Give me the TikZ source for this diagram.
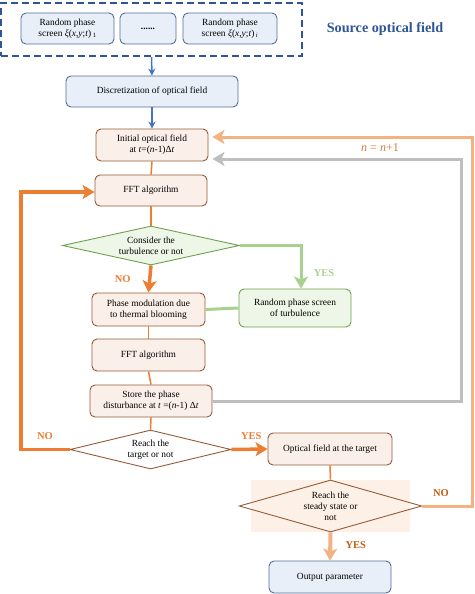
\documentclass[tikz,border=0pt]{standalone}
\usepackage{fontspec}
\setmainfont{Liberation Serif}
\usetikzlibrary{shapes.geometric,arrows.meta}
\definecolor{srcblue}{RGB}{47,85,151}
\definecolor{boxblue}{RGB}{233,239,248}
\definecolor{edgeblue}{RGB}{84,110,150}
\definecolor{arrblue}{RGB}{68,114,196}
\definecolor{boxpeach}{RGB}{251,240,233}
\definecolor{edgebrown}{RGB}{150,90,55}
\definecolor{thorange}{RGB}{237,125,49}
\definecolor{ltorange}{RGB}{244,177,131}
\definecolor{lbbrown}{RGB}{197,90,17}
\definecolor{boxgreen}{RGB}{238,246,232}
\definecolor{edgegreen}{RGB}{112,160,80}
\definecolor{arrgreen}{RGB}{169,209,142}
\definecolor{loopgray}{RGB}{191,191,191}
\definecolor{bgpeach}{RGB}{253,240,231}
\tikzset{
	bluebox/.style={draw=edgeblue,fill=boxblue,line width=0.9pt,rounded corners=5pt,align=center,inner sep=1pt},
	peachbox/.style={draw=edgebrown,fill=boxpeach,line width=0.9pt,rounded corners=5pt,align=center,inner sep=1pt},
	greenbox/.style={draw=edgegreen,fill=boxgreen,line width=0.9pt,rounded corners=5pt,align=center,inner sep=1pt},
	decision/.style={diamond,aspect=4.5,inner sep=0pt,line width=0.9pt,align=center},
	link/.style={draw=thorange,line width=1.5pt},
	bigtip/.style={-{Stealth[length=12pt,width=14pt,inset=3pt]}},
	lab/.style={font=\bfseries\fontsize{10.5}{12}\selectfont}
}
\begin{document}
\begin{tikzpicture}[x=1pt,y=-1pt,font=\fontsize{9.4}{11}\selectfont]
	\useasboundingbox (0,0) rectangle (474,594);
	% source field
	\node[draw=srcblue,dashed,line width=2pt,dash pattern=on 7pt off 4pt,minimum width=301pt,minimum height=53pt] (source) at (151.5,29.5) {};
	\node[bluebox,minimum width=93pt,minimum height=31pt] (screenA) at (67.5,28.5) {Random phase\\screen \textit{ξ}(\textit{x},\textit{y};\textit{t})\,\textsubscript{1}};
	\node[bluebox,minimum width=56pt,minimum height=31pt] (screenB) at (148,28.5) {\textbf{......}};
	\node[bluebox,minimum width=94pt,minimum height=31pt] (screenC) at (230,28.5) {Random phase\\screen \textit{ξ}(\textit{x},\textit{y};\textit{t})\,\textsubscript{\textit{i}}};
	\node[text=srcblue,font=\bfseries\fontsize{14.2}{16}\selectfont] (title) at (385,29) {Source optical field};
	% main chain
	\node[bluebox,minimum width=172pt,minimum height=31pt] (discrete) at (152,91.5) {Discretization of optical field};
	\node[peachbox,minimum width=112pt,minimum height=32pt] (initial) at (152,145) {Initial optical field\\at \textit{t}=(\textit{n}-1)Δ\textit{t}};
	\node[peachbox,minimum width=112pt,minimum height=31pt] (fftA) at (151,190.5) {FFT algorithm};
	\node[decision,draw=edgegreen,fill=boxgreen,minimum width=177pt,minimum height=39pt] (turb) at (151,245.5) {Consider the\\turbulence or not};
	\node[peachbox,minimum width=113pt,minimum height=33pt] (phase) at (148.5,309.5) {Phase modulation due\\to thermal blooming};
	\node[greenbox,minimum width=112pt,minimum height=38pt] (randscr) at (295,308) {Random phase screen\\of turbulence};
	\node[peachbox,minimum width=113pt,minimum height=32pt] (fftB) at (148.5,355) {FFT algorithm};
	\node[peachbox,minimum width=122pt,minimum height=32pt] (store) at (151,401) {Store the phase\\disturbance at \textit{t} =(\textit{n}-1) Δ\textit{t}};
	\node[decision,draw=edgebrown,fill=white,minimum width=161pt,minimum height=39pt] (target) at (150.5,449.5) {Reach the\\target or not};
	\node[peachbox,minimum width=124pt,minimum height=32pt] (optfield) at (330,449) {Optical field at the target};
	\fill[bgpeach] (251,480) rectangle (410,532);
	\node[decision,draw=edgebrown,minimum width=159pt,minimum height=52pt] (steady) at (330.5,506) {Reach the\\steady state or\\not};
	\node[bluebox,minimum width=122pt,minimum height=32pt] (output) at (330,577) {Output parameter};
	% connectors
	\draw[arrblue,line width=1.5pt,-{Stealth[length=7pt,width=7pt]}] (source.south) -- (discrete.north);
	\draw[arrblue,line width=1.5pt,-{Stealth[length=7pt,width=7pt]}] (discrete.south) -- (initial.north);
	\draw[link] (initial.south) -- (fftA.north);
	\draw[link] (fftA.south) -- (turb.north);
	\draw[thorange,line width=3.5pt,bigtip] (turb.south) -- node[lab,text=thorange,left=14pt] {NO} (phase.north);
	\coordinate (yesturn) at (301,245.5);
	\draw[arrgreen,line width=3pt,bigtip] (turb.east) -- (yesturn) -- node[lab,text=arrgreen,pos=0.65,right=8pt] {YES} ([xshift=6pt]randscr.north);
	\draw[arrgreen,line width=3pt] (phase.east) -- (randscr.west);
	\draw[link] (phase.south) -- (fftB.north);
	\draw[link] (fftB.south) -- (store.north);
	\draw[link] (store.south) -- (target.north);
	\draw[thorange,line width=3.5pt,bigtip] (target.east) -- node[lab,text=thorange,above=5pt,pos=0.55] {YES} (optfield.west);
	\coordinate (noleftA) at (21,449.5);
	\coordinate (noleftB) at (21,192);
	\draw[thorange,line width=3.5pt,bigtip] (target.west) -- (noleftA) -- (noleftB) -- (fftA.west |- noleftB);
	\node[lab,text=thorange] (nolabA) at (45,436) {NO};
	\draw[link] (optfield.south) -- (steady.north);
	\draw[ltorange,line width=4pt,bigtip] (steady.south) -- node[lab,text=lbbrown,right=10pt,pos=0.45] {YES} (output.north);
	\coordinate (grayA) at (461,401);
	\coordinate (grayB) at (461,159);
	\draw[loopgray,line width=3pt,bigtip] (store.east) -- (grayA) -- (grayB) -- ([xshift=4pt]initial.east |- grayB);
	\coordinate (loopA) at (472,506);
	\coordinate (loopB) at (472,137);
	\draw[ltorange,line width=3pt,bigtip] (steady.east) -- (loopA) -- (loopB) -- ([xshift=4pt]initial.east |- loopB);
	\node[lab,text=lbbrown] (nolabB) at (441,493) {NO};
	\node[text=lbbrown!80,font=\fontsize{12}{14}\selectfont] (count) at (380,148) {\textit{n} = \textit{n}+1};
\end{tikzpicture}
\end{document}
